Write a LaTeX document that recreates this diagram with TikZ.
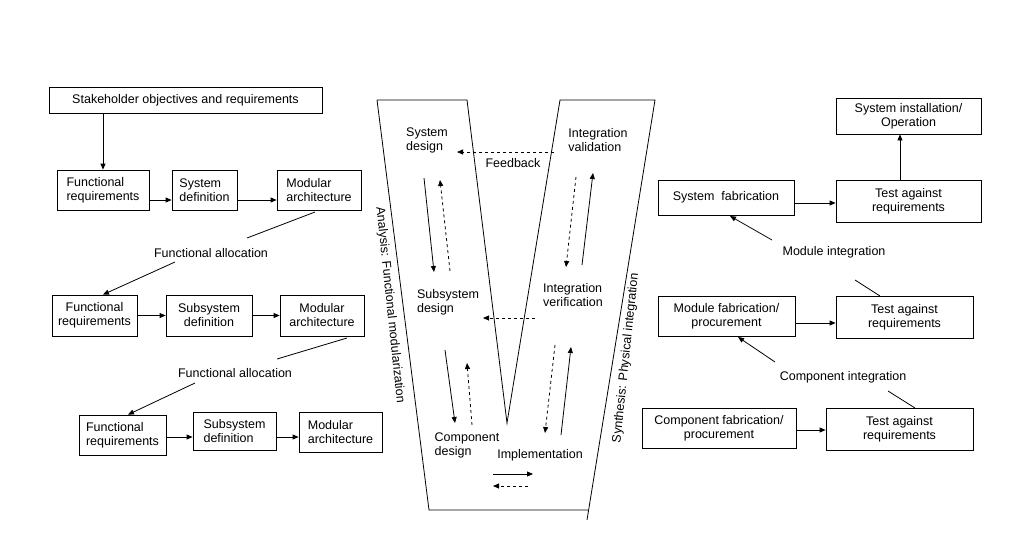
\documentclass[tikz,border=0pt]{standalone}
\usepackage{fontspec}
\setmainfont{Liberation Sans}
\usetikzlibrary{arrows.meta}
\begin{document}
\begin{tikzpicture}[x=1pt,y=-1pt,line width=0.8pt,
 font=\fontsize{12.5}{14}\selectfont,
 bx/.style={draw,inner sep=0pt,align=center},
 ar/.style={-{Triangle[length=6pt,width=5pt]}},
 da/.style={ar,dashed}]
\useasboundingbox (0,0) rectangle (1024,558);
% left boxes
\node[bx,minimum width=273,minimum height=26] (st) at (185.5,100) {Stakeholder objectives and requirements};
\node[bx,minimum width=92,minimum height=40,align=left] (f1) at (103,190) {Functional\\requirements};
\node[bx,minimum width=65,minimum height=40,align=left] (s1) at (204.5,190) {System\\definition};
\node[bx,minimum width=84,minimum height=40,align=left] (m1) at (319,190) {Modular\\architecture};
\node[bx,minimum width=85,minimum height=41] (f2) at (94.5,315.5) {Functional\\requirements};
\node[bx,minimum width=86,minimum height=41] (s2) at (209,315.5) {Subsystem\\definition};
\node[bx,minimum width=84,minimum height=41] (m2) at (322,315.5) {Modular\\architecture};
\node[bx,minimum width=87,minimum height=40,align=left] (f3) at (122.5,435) {Functional\\requirements};
\node[bx,minimum width=83,minimum height=38,align=left] (s3) at (234.5,431) {Subsystem\\definition};
\node[bx,minimum width=83,minimum height=40,align=left] (m3) at (340.5,432) {Modular\\architecture};
\draw[ar] (st.south -| f1) -- (f1.north);
\draw[ar] (f1.east |- 0,200) -- (s1.west |- 0,200);
\draw[ar] (s1.east |- 0,200) -- (m1.west |- 0,200);
\draw[ar] (f2) -- (s2); \draw[ar] (s2) -- (m2);
\draw[ar] (f3.east |- 0,437) -- (s3.west |- 0,437);
\draw[ar] (s3.east |- 0,437) -- (m3.west |- 0,437);
\node (fa1) at (211,253) {Functional allocation};
\node (fa2) at (235,373) {Functional allocation};
\coordinate (a1) at (315,212); \coordinate (a2) at (247,238);
\draw (a1) -- (a2); \draw[ar] (175,262) -- (f2.north -| 103,0);
\coordinate (b1) at (347,338); \coordinate (b2) at (277,359);
\draw (b1) -- (b2); \draw[ar] (195,383) -- (f3.north -| 128,0);
% V
\draw (377,100) -- (467,100) -- (507,423) -- (560,100) -- (655,100) -- (587,520);
\draw (377,100) -- (429,510) -- (588,510);
\node[align=left] (sd) at (427,140) {System\\design};
\node[align=left] (iv) at (598,140) {Integration\\validation};
\node (fb) at (513,163) {Feedback};
\draw[da] (554,152) -- (457,152);
\draw[ar] (424,178) -- (434,272); \draw[da] (450,271) -- (440,180);
\node[align=left] (ssd) at (448,302) {Subsystem\\design};
\node[align=left] (ivr) at (573,295) {Integration\\verification};
\draw[da] (535,318) -- (483,318);
\draw[da] (576,177) -- (566,267); \draw[ar] (582,265) -- (593,173);
\draw[ar] (445,350) -- (455,423); \draw[da] (472,425) -- (467,363);
\draw[da] (555,345) -- (545,433); \draw[ar] (561,435) -- (571,347);
\node[align=left] (cd) at (467,445) {Component\\design};
\node (im) at (540,455) {Implementation};
\draw[ar] (493,474) -- (533,474); \draw[da] (528,486) -- (493,486);
\node[rotate=-84] (an) at (390,305) {Analysis: Functional modularization};
\node[rotate=84] (sy) at (626,358) {Synthesis: Physical integration};
% right
\node[bx,minimum width=145,minimum height=36] (si) at (908.5,116) {System installation/\\Operation};
\node[bx,minimum width=145,minimum height=42] (t1) at (908.5,201) {Test against\\requirements};
\node[bx,minimum width=136,minimum height=35] (sf) at (726,197.5) {System\ \ fabrication};
\node[bx,minimum width=137,minimum height=40] (mf) at (726.5,316) {Module fabrication/\\procurement};
\node[bx,minimum width=137,minimum height=42] (t2) at (904.5,317) {Test against\\requirements};
\node[bx,minimum width=154,minimum height=40] (cf) at (719,428) {Component fabrication/\\procurement};
\node[bx,minimum width=147,minimum height=42] (t3) at (899.5,429) {Test against\\requirements};
\draw[ar] (sf.east |- 0,203) -- (t1.west |- 0,203);
\draw[ar] (t1.north -| 900,0) -- (si.south -| 900,0);
\draw[ar] (mf.east |- 0,323) -- (t2.west |- 0,323);
\draw[ar] (cf.east |- 0,430) -- (t3.west |- 0,430);
\node (mi) at (834,252) {Module integration};
\node (ci) at (843,377) {Component integration};
\coordinate (c1) at (880,296); \coordinate (c2) at (855,280);
\draw (c1) -- (c2); \draw[ar] (772,240) -- (730,216);
\coordinate (d1) at (915,408); \coordinate (d2) at (888,391);
\draw (d1) -- (d2); \draw[ar] (775,362) -- (738,337);
\end{tikzpicture}
\end{document}
